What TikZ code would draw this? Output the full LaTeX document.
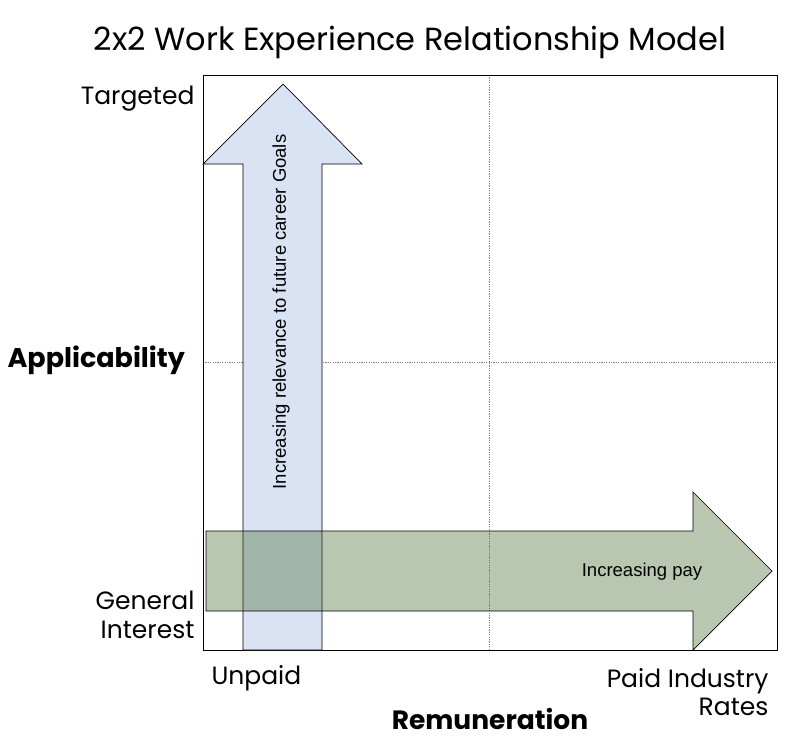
\documentclass[tikz,border=0pt]{standalone}
\usepackage{fontspec}
\setmainfont{Poppins}
\newfontfamily\arialfont{Liberation Sans}
\definecolor{relblue}{RGB}{218,227,243}
\definecolor{paygreen}{RGB}{56,95,32}
\begin{document}
\begin{tikzpicture}[x=1pt, y=-1pt,
    axislabel/.style={font=\fontsize{25}{28.5}\selectfont},
    axistitle/.style={font=\fontsize{26.5}{30}\selectfont\bfseries},
    arrowtext/.style={font=\arialfont\fontsize{18.5}{22}\selectfont},
    gridline/.style={gray, line width=0.6pt, dash pattern=on 1.2pt off 1.2pt}]
    \useasboundingbox[fill=white] (0, 0) rectangle (787, 747);
    % quadrant frame
    \draw[gridline] (489, 75) -- (489, 650);
    \draw[gridline] (203, 362) -- (777, 362);
    \draw[line width=0.8pt] (203, 75) rectangle (777, 650);
    % up arrow: applicability
    \draw[fill=relblue, line width=0.7pt]
        (243, 650) -- (243, 164) -- (203, 164) -- (283, 84)
        -- (362, 164) -- (322, 164) -- (322, 650) -- cycle;
    % right arrow: remuneration
    \draw[fill=paygreen, fill opacity=0.35, line width=0.7pt]
        (206, 531) -- (693, 531) -- (693, 492) -- (772, 571)
        -- (693, 650) -- (693, 611) -- (206, 611) -- cycle;
    \node[arrowtext, rotate=90] (relevance) at (281, 312)
        {Increasing relevance to future career Goals};
    \node[arrowtext] (pay) at (642, 572) {Increasing pay};
    % labels
    \node[font=\fontsize{32}{36}\selectfont] (title) at (410, 42)
        {2x2 Work Experience Relationship Model};
    \node[axislabel, anchor=east] (targeted) at (198, 99) {Targeted};
    \node[axislabel, anchor=west] (applicability) at (4, 360)
        {\fontsize{27}{30}\selectfont\bfseries Applicability};
    \node[axislabel, anchor=east, align=right] (general) at (198, 615)
        {General\\Interest};
    \node[axislabel, anchor=west] (unpaid) at (208, 678) {Unpaid};
    \node[axislabel, anchor=east, align=right] (paid) at (772, 692)
        {Paid Industry\\Rates};
    \node[axistitle] (remuneration) at (490, 719) {Remuneration};
\end{tikzpicture}
\end{document}
